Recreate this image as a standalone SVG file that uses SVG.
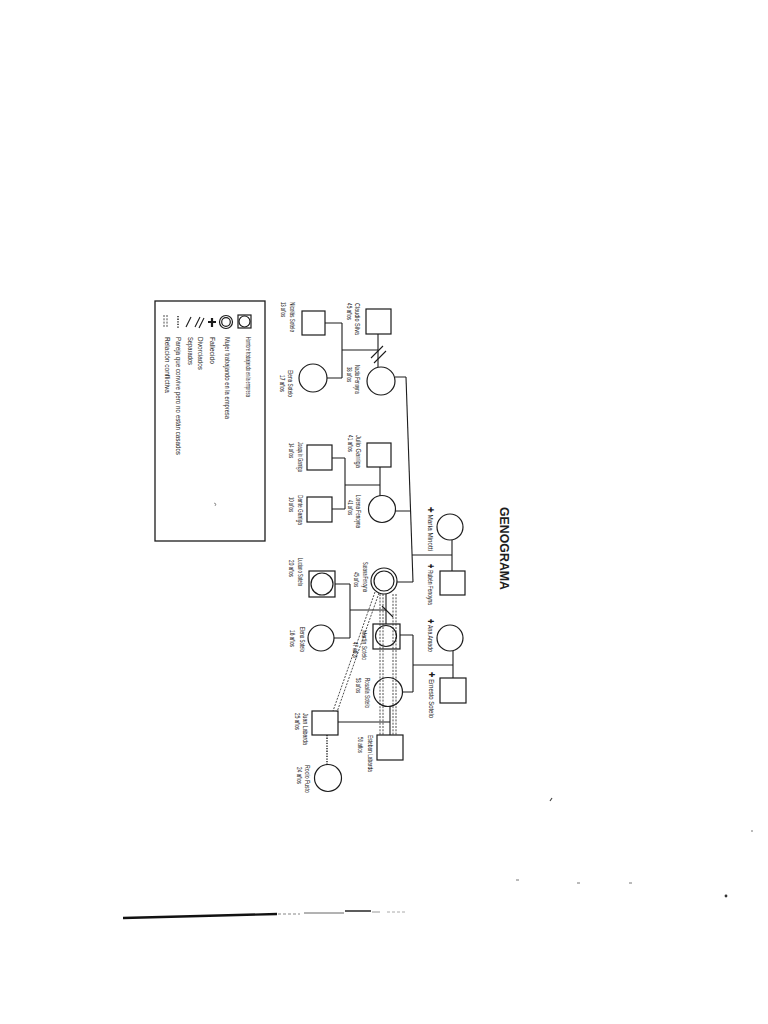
<svg xmlns="http://www.w3.org/2000/svg" width="768" height="1024" viewBox="0 0 768 1024">
<style>
.s{fill:none;stroke:#1c1c1c;stroke-width:1.2}
.l{fill:none;stroke:#1c1c1c;stroke-width:1.1}
.cf{fill:none;stroke:#3a3a3a;stroke-width:0.9;stroke-dasharray:2 1.3}
.dt{fill:none;stroke:#1c1c1c;stroke-width:1.4;stroke-dasharray:1.3 1.3}
.t{font-family:"Liberation Sans",Arial,sans-serif;font-size:7.5px;fill:#1c1c1c}
.ti{font-family:"Liberation Sans",Arial,sans-serif;font-size:13px;font-weight:bold;fill:#1c1c1c}
</style>
<rect width="768" height="1024" fill="#ffffff"/>

<g id="title">
<text class="ti" transform="translate(500,507) rotate(90)" textLength="83" lengthAdjust="spacingAndGlyphs">GENOGRAMA</text>
</g>

<g id="connectors">
<path class="l" d="M452,540 V571 M452,555 H412"/>
<path class="l" d="M406,377 L413,582"/>
<path class="l" d="M395,377 H406 M395,511 H410 M397,582 H413"/>
<path class="l" d="M453,651 V678 M453,665 H413 M413,635 V692 M400,635 H413 M402,692 H413"/>
<path class="l" d="M378,334 V367 M378,350 H342 M342,323 V378 M325,323 H342 M327,378 H342"/>
<path class="l" d="M371,358 L383,346 M374,363 L386,351"/>
<path class="l" d="M380,467 V496 M380,485 H345 M345,458 V509 M332,458 H345 M332,509 H345"/>
<path class="l" d="M386,594 V624 M386,610 H350 M350,584 V638 M335,584 H350 M334,638 H350"/>
<path class="l" d="M382,606 L393,617"/>
<path class="l" d="M390,706 V735 M390,722 H338"/>
<path class="dt" d="M327,735 V765"/>
<path class="cf" d="M375,592 L333,711 M379,593 L337,712"/>
<path class="cf" d="M380,594 V735 M383,594 V735 M393,594 V735 M396,594 V735"/>
</g>

<g id="n-maria"><circle class="s" cx="450" cy="527" r="13"/>
<text class="t" transform="translate(427.5,507) rotate(90)" textLength="44" lengthAdjust="spacingAndGlyphs">✚ María Minotti</text></g>
<g id="n-ruben"><rect class="s" x="440" y="571" width="25" height="24"/>
<text class="t" transform="translate(427.5,564) rotate(90)" textLength="41" lengthAdjust="spacingAndGlyphs">✚ Rubén Fenoyna</text></g>
<g id="n-ana"><circle class="s" cx="450" cy="638" r="13"/>
<text class="t" transform="translate(427.5,619) rotate(90)" textLength="33" lengthAdjust="spacingAndGlyphs">✚ Ana Amado</text></g>
<g id="n-ernesto"><rect class="s" x="440" y="678" width="26" height="25"/>
<text class="t" transform="translate(428.5,672) rotate(90)" textLength="46" lengthAdjust="spacingAndGlyphs">✚ Ernesto Sotelo</text></g>

<g id="n-claudio"><rect class="s" x="366" y="309" width="25" height="25"/>
<text class="t" transform="translate(354.5,303) rotate(90)" textLength="32" lengthAdjust="spacingAndGlyphs">Claudio Silva</text>
<text class="t" transform="translate(347,303) rotate(90)" textLength="17" lengthAdjust="spacingAndGlyphs">45 años</text></g>
<g id="n-nadia"><circle class="s" cx="381" cy="381" r="14"/>
<text class="t" transform="translate(354.5,365) rotate(90)" textLength="29" lengthAdjust="spacingAndGlyphs">Nadia Fenoyna</text>
<text class="t" transform="translate(347,367) rotate(90)" textLength="15" lengthAdjust="spacingAndGlyphs">38 años</text></g>
<g id="n-nicolas"><rect class="s" x="302" y="311" width="23" height="24"/>
<text class="t" transform="translate(289.5,302) rotate(90)" textLength="30" lengthAdjust="spacingAndGlyphs">Nicolás Sotelo</text>
<text class="t" transform="translate(281,302) rotate(90)" textLength="15" lengthAdjust="spacingAndGlyphs">13 años</text></g>
<g id="n-elena17"><circle class="s" cx="313" cy="378" r="14"/>
<text class="t" transform="translate(287.5,370) rotate(90)" textLength="27" lengthAdjust="spacingAndGlyphs">Elena Sotelo</text>
<text class="t" transform="translate(280,375) rotate(90)" textLength="17" lengthAdjust="spacingAndGlyphs">17 años</text></g>

<g id="n-julio"><rect class="s" x="367" y="443" width="24" height="24"/>
<text class="t" transform="translate(355.5,435) rotate(90)" textLength="33" lengthAdjust="spacingAndGlyphs">Julio Garriga</text>
<text class="t" transform="translate(348,435) rotate(90)" textLength="17" lengthAdjust="spacingAndGlyphs">41 años</text></g>
<g id="n-lorena"><circle class="s" cx="382" cy="509" r="13.5"/>
<text class="t" transform="translate(355.5,495) rotate(90)" textLength="33" lengthAdjust="spacingAndGlyphs">Lorena Fenoyna</text>
<text class="t" transform="translate(348,500) rotate(90)" textLength="15" lengthAdjust="spacingAndGlyphs">41 años</text></g>
<g id="n-joaquin"><rect class="s" x="307" y="445" width="25" height="25"/>
<text class="t" transform="translate(297.5,442) rotate(90)" textLength="30" lengthAdjust="spacingAndGlyphs">Joaquín Garriga</text>
<text class="t" transform="translate(289,443) rotate(90)" textLength="15" lengthAdjust="spacingAndGlyphs">14 años</text></g>
<g id="n-dante"><rect class="s" x="307" y="497" width="25" height="25"/>
<text class="t" transform="translate(297.5,495) rotate(90)" textLength="30" lengthAdjust="spacingAndGlyphs">Dante Garriga</text>
<text class="t" transform="translate(289,497) rotate(90)" textLength="15" lengthAdjust="spacingAndGlyphs">10 años</text></g>

<g id="n-susana"><circle class="s" cx="384" cy="581" r="13"/><circle class="s" cx="384" cy="581" r="10"/>
<text class="t" transform="translate(362.5,562) rotate(90)" textLength="30" lengthAdjust="spacingAndGlyphs">Susana Fenoyna</text>
<text class="t" transform="translate(354,572) rotate(90)" textLength="15" lengthAdjust="spacingAndGlyphs">45 años</text></g>
<g id="n-martin"><rect class="s" x="373" y="624" width="27" height="25"/><circle class="s" cx="386" cy="636" r="10.5"/>
<text class="t" transform="translate(361.5,630) rotate(90)" textLength="30" lengthAdjust="spacingAndGlyphs">Martín Sotelo</text>
<text class="t" transform="translate(353,642) rotate(90)" textLength="16" lengthAdjust="spacingAndGlyphs">47 años</text></g>
<g id="n-rosalia"><circle class="s" cx="388" cy="692" r="14.5"/>
<text class="t" transform="translate(364.5,678) rotate(90)" textLength="30" lengthAdjust="spacingAndGlyphs">Rosalía Sotelo</text>
<text class="t" transform="translate(356,678) rotate(90)" textLength="15" lengthAdjust="spacingAndGlyphs">53 años</text></g>
<g id="n-esteban"><rect class="s" x="377" y="735" width="26" height="25"/>
<text class="t" transform="translate(367.5,735) rotate(90)" textLength="37" lengthAdjust="spacingAndGlyphs">Esteban Labarda</text>
<text class="t" transform="translate(358,737) rotate(90)" textLength="16" lengthAdjust="spacingAndGlyphs">56 años</text></g>

<g id="n-luciano"><rect class="s" x="309" y="571" width="26" height="26"/><circle class="s" cx="322" cy="584" r="11"/>
<text class="t" transform="translate(297.5,558) rotate(90)" textLength="28" lengthAdjust="spacingAndGlyphs">Luciano Sotelo</text>
<text class="t" transform="translate(289,560) rotate(90)" textLength="17" lengthAdjust="spacingAndGlyphs">20 años</text></g>
<g id="n-elena16"><circle class="s" cx="321" cy="638" r="13"/>
<text class="t" transform="translate(299.5,627) rotate(90)" textLength="25" lengthAdjust="spacingAndGlyphs">Elena Sotelo</text>
<text class="t" transform="translate(290,630) rotate(90)" textLength="17" lengthAdjust="spacingAndGlyphs">16 años</text></g>
<g id="n-juan"><rect class="s" x="312" y="711" width="26" height="24"/>
<text class="t" transform="translate(302.5,713) rotate(90)" textLength="32" lengthAdjust="spacingAndGlyphs">Juan Labarda</text>
<text class="t" transform="translate(295,713) rotate(90)" textLength="17" lengthAdjust="spacingAndGlyphs">25 años</text></g>
<g id="n-rocio"><circle class="s" cx="328" cy="778" r="13.5"/>
<text class="t" transform="translate(304.5,765) rotate(90)" textLength="28" lengthAdjust="spacingAndGlyphs">Rocío Fusto</text>
<text class="t" transform="translate(297,767) rotate(90)" textLength="17" lengthAdjust="spacingAndGlyphs">24 años</text></g>

<g id="legend">
<rect x="155" y="301" width="110" height="240" fill="none" stroke="#1c1c1c" stroke-width="1.3"/>
<rect class="s" x="238" y="315" width="13" height="13"/><circle class="s" cx="244.5" cy="321.5" r="5.5"/>
<text class="t" transform="translate(245.5,337) rotate(90)" textLength="60" lengthAdjust="spacingAndGlyphs">Hombre trabajando en la empresa</text>
<circle class="s" cx="226" cy="322" r="6.5" stroke-width="1.4"/><circle class="s" cx="226" cy="322" r="4.3"/>
<text class="t" transform="translate(225,337) rotate(90)" textLength="82" lengthAdjust="spacingAndGlyphs">Mujer trabajando en la empresa</text>
<path d="M212,318 V327 M208,322 H216" stroke="#1c1c1c" stroke-width="2.2"/>
<text class="t" transform="translate(209.5,337) rotate(90)" textLength="27" lengthAdjust="spacingAndGlyphs">Fallecido</text>
<path class="l" d="M195,327 L200,317 M199,328 L204,318"/>
<text class="t" transform="translate(197.5,337) rotate(90)" textLength="33" lengthAdjust="spacingAndGlyphs">Divorciados</text>
<path class="l" d="M186,327 L191,317"/>
<text class="t" transform="translate(187.5,337) rotate(90)" textLength="28" lengthAdjust="spacingAndGlyphs">Separados</text>
<path class="dt" d="M178,316 V328"/>
<text class="t" transform="translate(175.5,337) rotate(90)" textLength="118" lengthAdjust="spacingAndGlyphs">Pareja que convive pero no están casados</text>
<path class="cf" d="M164,315 V328 M167,315 V328"/>
<text class="t" transform="translate(164.5,337) rotate(90)" textLength="56" lengthAdjust="spacingAndGlyphs">Relación conflictiva</text>
<path d="M214,503 l2,1 l-1,2" fill="none" stroke="#777" stroke-width="0.8"/>
</g>

<g id="scan-marks">
<path d="M123,918 L200,916 L277,914" stroke="#111" stroke-width="2.4" fill="none"/>
<path d="M278,914 H300" stroke="#888" stroke-width="1.2" stroke-dasharray="3 2" fill="none"/>
<path d="M304,913 H344" stroke="#666" stroke-width="1" fill="none"/>
<path d="M345,911 H371" stroke="#333" stroke-width="1.6" fill="none"/>
<path d="M372,912 H380" stroke="#999" stroke-width="1" fill="none"/>
<path d="M387,912 H407" stroke="#aaa" stroke-width="1" stroke-dasharray="3 2" fill="none"/>
<path d="M550,801 l2,-3" stroke="#444" stroke-width="1.2"/>
<path d="M516,880 h3 M577,883 h3 M629,883 h3 M751,831 h2" stroke="#777" stroke-width="1"/>
<circle cx="726" cy="896" r="1.4" fill="#333"/>
</g>
</svg>
